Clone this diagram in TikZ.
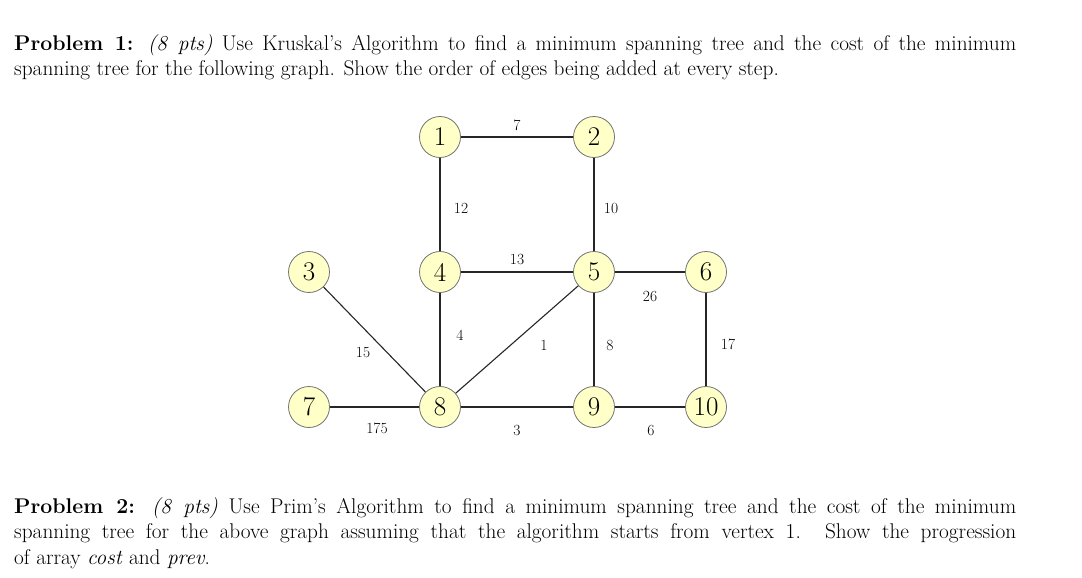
\documentclass[tikz,border=0pt]{standalone}
\begin{document}
\begin{tikzpicture}[x=1pt,y=-1pt,
 v/.style={circle,draw=black!55,line width=0.8pt,fill={rgb,255:red,255;green,255;blue,200},minimum size=41pt,inner sep=0pt,font=\fontsize{27}{27}\selectfont},
 w/.style={font=\fontsize{15.5}{15.5}\selectfont},
 e/.style={draw=black!85,line width=1.1pt},
 para/.style={anchor=north west,text width=1002pt,align=justify,inner sep=0pt,font=\fontsize{21.3}{25.5}\selectfont}]
\useasboundingbox (0,0) rectangle (1082,578);
\node[para] (p1) at (14,34) {\textbf{Problem 1:} \textit{(8 pts)} Use Kruskal's Algorithm to find a minimum spanning tree and the cost of the minimum\linebreak spanning tree for the following graph. Show the order of edges being added at every step.};
\node[para] (p2) at (14,497) {\textbf{Problem 2:} \textit{(8 pts)} Use Prim's Algorithm to find a minimum spanning tree and the cost of the minimum\linebreak spanning tree for the above graph assuming that the algorithm starts from vertex 1. Show the progression\linebreak of array \textit{cost} and \textit{prev}.};
\node[v] (n1) at (440,137) {1};
\node[v] (n2) at (594,137) {2};
\node[v] (n3) at (309,272) {3};
\node[v] (n4) at (440,272) {4};
\node[v] (n5) at (594,272) {5};
\node[v] (n6) at (706,272) {6};
\node[v] (n7) at (309,407) {7};
\node[v] (n8) at (440,407) {8};
\node[v] (n9) at (594,407) {9};
\node[v] (n10) at (706,407) {10};
\draw[e] (n1)--(n2); \draw[e] (n1)--(n4); \draw[e] (n2)--(n5);
\draw[e] (n4)--(n5); \draw[e] (n5)--(n6); \draw[e] (n4)--(n8);
\draw[e] (n3)--(n8); \draw[e] (n8)--(n5); \draw[e] (n5)--(n9);
\draw[e] (n6)--(n10); \draw[e] (n7)--(n8); \draw[e] (n8)--(n9);
\draw[e] (n9)--(n10);
\node[w] (l7) at (517,125) {7};
\node[w] (l12) at (461,208) {12};
\node[w] (l10) at (611,208) {10};
\node[w] (l13) at (517,259) {13};
\node[w] (l26) at (650,296) {26};
\node[w] (l4) at (460,335) {4};
\node[w] (l1) at (544,345) {1};
\node[w] (l8) at (610,345) {8};
\node[w] (l17) at (728,344) {17};
\node[w] (l15) at (363,352) {15};
\node[w] (l175) at (377,428) {175};
\node[w] (l3) at (517,430) {3};
\node[w] (l6) at (651,430) {6};
\end{tikzpicture}
\end{document}
